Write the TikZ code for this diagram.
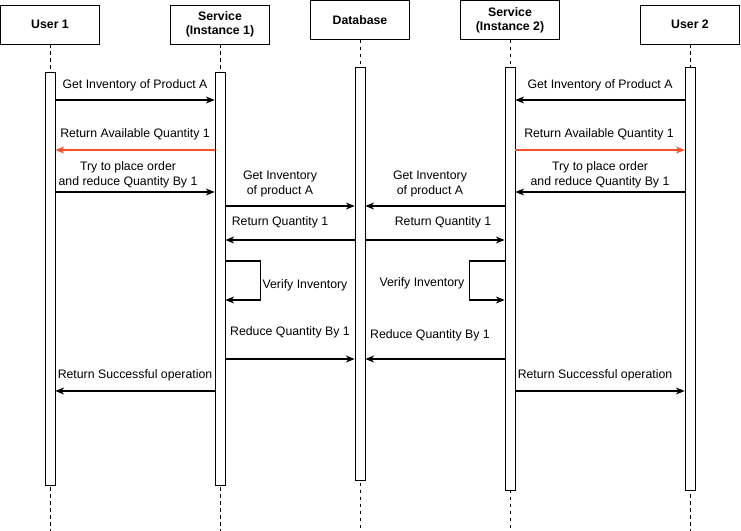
\documentclass[tikz,border=0pt]{standalone}
\usepackage{fontspec}
\setmainfont{Liberation Sans}
\usetikzlibrary{arrows.meta}
\definecolor{returnred}{RGB}{255,80,40}

\begin{document}
\begin{tikzpicture}[x=0.02cm, y=-0.02cm,
    actor/.style={draw, fill=white, minimum width=1.98cm, minimum height=0.78cm, font=\fontsize{7}{8}\selectfont\bfseries, align=center, inner sep=0pt},
    lifeline/.style={draw, dashed, dash pattern=on 2pt off 2pt, thin},
    bar/.style={draw, fill=white, minimum width=0.2cm, inner sep=0pt, anchor=north},
    msg/.style={-{Stealth[length=5pt, width=4pt]}, semithick},
    ret/.style={msg, returnred},
    lbl/.style={font=\fontsize{7}{8.5}\selectfont, align=center, inner sep=0pt}]
    \useasboundingbox (0,0) rectangle (741,531);

    % Heads
    \node[actor] (user1) at (50,24.5) {User 1};
    \node[actor] (serv1) at (220,24.5) {Service\\(Instance 1)};
    \node[actor] (db) at (360,20) {Database};
    \node[actor] (serv2) at (510,20) {Service\\(Instance 2)};
    \node[actor] (user2) at (690,24.5) {User 2};

    % Lifelines
    \foreach \n in {user1,serv1,db,serv2,user2}
        \draw[lifeline] (\n.south) -- (\n.south |- 0,531);

    % Activation bars
    \node[bar, minimum height=8.26cm] (u1bar) at (50,72) {};
    \node[bar, minimum height=8.26cm] (s1bar) at (220,72) {};
    \node[bar, minimum height=8.26cm] (dbbar) at (360,67) {};
    \node[bar, minimum height=8.46cm] (s2bar) at (510,67) {};
    \node[bar, minimum height=8.46cm] (u2bar) at (690,67) {};

    % Message rows
    \coordinate (m1) at (0,100);
    \coordinate (m2) at (0,150);
    \coordinate (m3) at (0,192);
    \coordinate (m4) at (0,206);
    \coordinate (m5) at (0,240);
    \coordinate (m6) at (0,359);
    \coordinate (m7) at (0,391);

    % Inventory request
    \draw[msg] (u1bar.east |- m1) -- (s1bar.west |- m1);
    \node[lbl] at (135,85) {Get Inventory of Product A};
    \draw[msg] (u2bar.west |- m1) -- (s2bar.east |- m1);
    \node[lbl] at (600,85) {Get Inventory of Product A};

    % Available quantity
    \draw[ret] (s1bar.west |- m2) -- (u1bar.east |- m2);
    \node[lbl] at (135,134) {Return Available Quantity 1};
    \draw[ret] (s2bar.east |- m2) -- (u2bar.west |- m2);
    \node[lbl] at (599,134) {Return Available Quantity 1};

    % Place order
    \draw[msg] (u1bar.east |- m3) -- (s1bar.west |- m3);
    \node[lbl] at (128,175) {Try to place order\\and reduce Quantity By 1};
    \draw[msg] (u2bar.west |- m3) -- (s2bar.east |- m3);
    \node[lbl] at (600,175) {Try to place order\\and reduce Quantity By 1};

    % Database reads
    \draw[msg] (s1bar.east |- m4) -- (dbbar.west |- m4);
    \node[lbl] at (280,184) {Get Inventory\\of product A};
    \draw[msg] (s2bar.west |- m4) -- (dbbar.east |- m4);
    \node[lbl] at (430,184) {Get Inventory\\of product A};
    \draw[msg] (dbbar.west |- m5) -- (s1bar.east |- m5);
    \node[lbl] at (280,222) {Return Quantity 1};
    \draw[msg] (dbbar.east |- m5) -- (s2bar.west |- m5);
    \node[lbl] at (443,222) {Return Quantity 1};

    % Verify
    \draw[msg] (s1bar.east |- 0,261) -- ++(35,0) -- ++(0,39) -- (s1bar.east |- 0,300);
    \node[lbl] at (305,285) {Verify Inventory};
    \draw[msg] (s2bar.west |- 0,261) -- ++(-35,0) -- ++(0,39) -- (s2bar.west |- 0,300);
    \node[lbl] at (422,283) {Verify Inventory};

    % Reduce
    \draw[msg] (s1bar.east |- m6) -- (dbbar.west |- m6);
    \node[lbl] at (290,332) {Reduce Quantity By 1};
    \draw[msg] (s2bar.west |- m6) -- (dbbar.east |- m6);
    \node[lbl] at (430,335) {Reduce Quantity By 1};

    % Success
    \draw[msg] (s1bar.west |- m7) -- (u1bar.east |- m7);
    \node[lbl] at (135,375) {Return Successful operation};
    \draw[msg] (s2bar.east |- m7) -- (u2bar.west |- m7);
    \node[lbl] at (595,375) {Return Successful operation};
\end{tikzpicture}
\end{document}
